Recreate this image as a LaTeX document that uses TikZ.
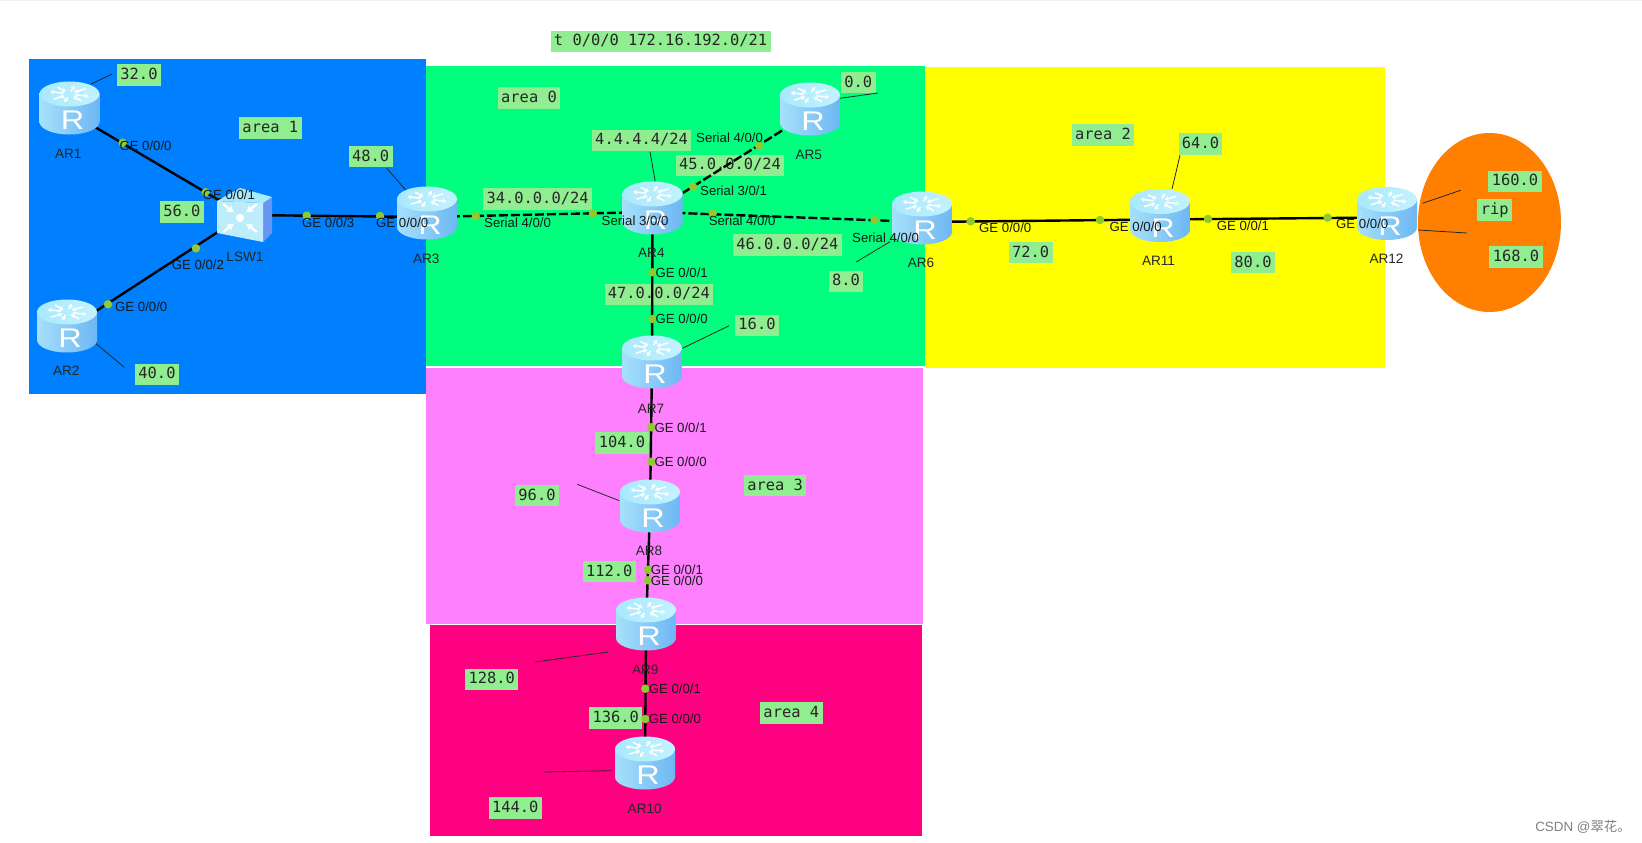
\documentclass[tikz,border=0pt]{standalone}
\usepackage{fontspec}
\usepackage{tikz}
\usetikzlibrary{backgrounds, arrows.meta}
\setmainfont{Liberation Sans}
\newfontfamily\labelfont{DejaVu Sans Mono}
\newfontfamily\cjkfont{Noto Sans CJK SC}
\definecolor{area0col}{HTML}{00FF7F}
\definecolor{area1col}{HTML}{0080FF}
\definecolor{area2col}{HTML}{FFFF00}
\definecolor{area3col}{HTML}{FF80FF}
\definecolor{area4col}{HTML}{FF0080}
\definecolor{ripcol}{HTML}{FF8000}
\definecolor{tagcol}{HTML}{90EE90}
\definecolor{portcol}{HTML}{8FCB2E}
\definecolor{bodyl}{HTML}{A6E0FB}
\definecolor{bodym}{HTML}{9ADCFC}
\definecolor{bodyr}{HTML}{6DB7F3}
\definecolor{topl}{HTML}{A8E9FD}
\definecolor{topr}{HTML}{C4F2FE}
\definecolor{swfront}{HTML}{BDEDFB}
\definecolor{swside}{HTML}{6496F2}
% the icon sits 4 above the point where the links meet
\newcommand{\routerbody}{
  \begin{scope}[shift = {(path picture bounding box.center)}]
    \shade[left color = bodyl, middle color = bodym, right color = bodyr]
      (-30, -18) -- (-30, 10) arc[x radius = 30, y radius = 12.5, start angle = 180, end angle = 0] -- (30, -18) -- cycle;
    \shade[left color = topl, right color = topr]
      (0, -18) ellipse[x radius = 30, y radius = 12.5];
    \foreach \a in {15, 105, 195, 285}
    {
    \draw[white, line width = 1.5, -{Stealth[length = 4pt, width = 5pt]}] ({6*cos(\a)}, {-18 + 3*sin(\a)}) -- ({20*cos(\a)}, {-18 + 8.5*sin(\a)});
    \draw[white, line width = 1.5, {Stealth[length = 4pt, width = 5pt]}-] ({6*cos(\a + 38)}, {-18 + 3*sin(\a + 38)}) -- ({20*cos(\a + 38)}, {-18 + 8.5*sin(\a + 38)});
    }
    \node[white, font = \fontsize{27}{27}\selectfont, inner sep = 0] at (3, 8.5) (rtext) {\scalebox{1.2}[1]{R}};
  \end{scope}
}
\newcommand{\switchbody}{
  \begin{scope}[shift = {(path picture bounding box.center)}]
    \fill[swside] (19, -12) -- (28, -18) -- (28, 18) -- (19, 27) -- cycle;
    \fill[topl] (-27, -14) -- (-4, -27) -- (28, -18) -- (19, -12) -- cycle;
    \fill[swfront] (-27, -14) -- (19, -12) -- (19, 27) -- (-27, 18) -- cycle;
    \fill[white] (-4, 3) circle (4);
    \foreach \a in {45, 135, 225, 315}
    {
    \draw[white, line width = 2.4, -{Stealth[length = 7pt, width = 8pt]}] ({-4 + 24*cos(\a)}, {3 + 20*sin(\a)}) -- ({-4 + 9*cos(\a)}, {3 + 8*sin(\a)});
    }
  \end{scope}
}
\tikzset{
  router/.style = {minimum width = 61pt, minimum height = 61pt, inner sep = 0, path picture = {\routerbody}},
  switch/.style = {minimum width = 56pt, minimum height = 54pt, inner sep = 0, path picture = {\switchbody}},
  tag/.style = {fill = tagcol, font = \labelfont\fontsize{15.4}{18}\selectfont, inner xsep = 3.4pt, inner ysep = 0, minimum height = 21.5pt, text height = 13pt, text depth = 4pt, text = black!85},
  dev/.style = {font = \fontsize{13.6}{16}\selectfont, inner sep = 0, text = black!85},
  ifname/.style = {font = \fontsize{13.2}{16}\selectfont, inner sep = 0, anchor = west, text = black!90},
  port/.style = {circle, fill = portcol, minimum size = 8.5pt, inner sep = 0},
  link/.style = {line width = 2.4pt, black},
  serial/.style = {link, dash pattern = on 9pt off 3pt},
  leader/.style = {line width = .8pt, black!85}
}
\begin{document}
\begin{tikzpicture}[x = 1pt, y = -1pt]
  \useasboundingbox (0, 0) rectangle (1642, 843);
  \begin{scope}[on background layer]
    \fill[black!5] (0, 0) rectangle (1642, 1);
    \fill[area1col] (29, 59) rectangle (425.5, 394);
    \fill[area0col] (426, 66) rectangle (925, 366);
    \fill[area2col] (925, 67) rectangle (1385, 367.5);
    \fill[area3col] (426, 368) rectangle (923, 624);
    \fill[area4col] (430, 624.5) rectangle (922, 836);
    \fill[ripcol] (1489.5, 222.5) ellipse[x radius = 71.5, y radius = 89.5];
    % labels sit under the links
    \node[tag] at (660.6, 41.5) (prefix) {t 0/0/0 172.16.192.0/21};
    \node[tag] at (270.3, 127.8) (area1) {area 1};
    \node[tag] at (529, 98) (area0) {area 0};
    \node[tag] at (1103, 135) (area2) {area 2};
    \node[tag] at (775.2, 485.5) (area3) {area 3};
    \node[tag] at (791.3, 712.8) (area4) {area 4};
    \node[tag] at (1494.7, 210) (rip) {rip};
    \node[tag] at (139, 75.2) (t32) {32.0};
    \node[tag] at (157, 374.3) (t40) {40.0};
    \node[tag] at (370.7, 156.7) (t48) {48.0};
    \node[tag] at (181.8, 212) (t56) {56.0};
    \node[tag] at (858.3, 82.7) (t0) {0.0};
    \node[tag] at (846, 281.3) (t8) {8.0};
    \node[tag] at (757, 325.3) (t16) {16.0};
    \node[tag] at (1200.5, 144) (t64) {64.0};
    \node[tag] at (1030.7, 252.7) (t72) {72.0};
    \node[tag] at (1253, 262.7) (t80) {80.0};
    \node[tag] at (537, 495.5) (t96) {96.0};
    \node[tag] at (622, 442.8) (t104) {104.0};
    \node[tag] at (609.3, 571.7) (t112) {112.0};
    \node[tag] at (491.8, 679.3) (t128) {128.0};
    \node[tag] at (615.7, 718) (t136) {136.0};
    \node[tag] at (515.3, 808) (t144) {144.0};
    \node[tag] at (1515, 181.3) (t160) {160.0};
    \node[tag] at (1516, 256.8) (t168) {168.0};
    \node[tag] at (641.6, 140.3) (n4) {4.4.4.4/24};
    \node[tag] at (537.6, 199) (n34) {34.0.0.0/24};
    \node[tag] at (730, 165.3) (n45) {45.0.0.0/24};
    \node[tag] at (787.4, 245.2) (n46) {46.0.0.0/24};
    \node[tag] at (658.9, 294.3) (n47) {47.0.0.0/24};
  \end{scope}
  % routers
  \node[router] at (69.5, 112) (AR1) {};
  \node[router] at (67, 330) (AR2) {};
  \node[router] at (427, 217) (AR3) {};
  \node[router] at (652.5, 212) (AR4) {};
  \node[router] at (810, 113) (AR5) {};
  \node[router] at (922, 222) (AR6) {};
  \node[router] at (652, 366) (AR7) {};
  \node[router] at (650, 510) (AR8) {};
  \node[router] at (646, 628) (AR9) {};
  \node[router] at (645, 767) (AR10) {};
  \node[router] at (1160, 219.5) (AR11) {};
  \node[router] at (1387, 217.5) (AR12) {};
  \node[switch] at (244, 215) (LSW1) {};
  \begin{scope}[on background layer]
    \draw[link] (AR1.center) -- (LSW1.center);
    \draw[link] (AR2.center) -- (LSW1.center);
    \draw[link] (LSW1.center) -- (AR3.center);
    \draw[serial] (AR3.center) -- (AR4.center);
    \draw[serial] (AR4.center) -- (AR5.center);
    \draw[serial] (AR4.center) -- (AR6.center);
    \draw[link] (AR4.center) -- (AR7.center);
    \draw[link] (AR7.center) -- (AR8.center);
    \draw[link] (AR8.center) -- (AR9.center);
    \draw[link] (AR9.center) -- (AR10.center);
    \draw[link] (AR6.center) -- (AR11.center);
    \draw[link] (AR11.center) -- (AR12.center);
    % cost leaders
    \coordinate (c32) at (112, 74);
    \coordinate (c40) at (124.3, 367.3);
    \coordinate (c48) at (386.7, 168.3);
    \coordinate (c0) at (878, 93);
    \coordinate (c4) at (650, 151.7);
    \coordinate (c8) at (856.3, 262);
    \coordinate (c16) at (729.2, 325.7);
    \coordinate (c96) at (577.3, 484.3);
    \coordinate (c128) at (535, 662);
    \coordinate (c144) at (544, 772);
    \coordinate (c64) at (1180, 155.3);
    \coordinate (c160) at (1460.7, 190.3);
    \coordinate (c168) at (1466.8, 233);
    \draw[leader] (AR1) ++(21.2, -27.7) -- (c32);
    \draw[leader] (AR2) ++(29, 13.7) -- (c40);
    \draw[leader] (AR3) ++(-21.3, -27) -- (c48);
    \draw[leader] (AR5) ++(30, -14.7) -- (c0);
    \draw[leader] (AR4) ++(2.7, -30.7) -- (c4);
    \draw[leader] (AR6) ++(-32, 19.7) -- (c8);
    \draw[leader] (AR7) ++(30.4, -17.7) -- (c16);
    \draw[leader] (AR8) ++(-30.7, -9.3) -- (c96);
    \draw[leader] (AR9) ++(-37.7, 24) -- (c128);
    \draw[leader] (AR10) ++(-33.3, 3.7) -- (c144);
    \draw[leader] (AR11) ++(12, -30.5) -- (c64);
    \draw[leader] (AR12) ++(35.5, -14.2) -- (c160);
    \draw[leader] (AR12) ++(31, 12.5) -- (c168);
  \end{scope}
  \foreach \n/\x/\y in {1/122.7/142.7, 2/205.7/192.3, 3/196/248.3, 4/108/304.3, 5/306.7/215.7, 6/380/216,
    7/475.8/216, 8/592.9/213.3, 9/693/186.7, 10/759/145.7, 11/712.7/213.3, 12/874.5/220,
    13/652.4/272.3, 14/652.4/319, 15/651.3/427.3, 16/651.3/461.7, 17/648/569.7, 18/648/580.3,
    19/645.3/688.7, 20/645.3/719, 21/970.7/221.3, 22/1100/220, 23/1208/219, 24/1327.6/217.7}
  {
  \node[port] at (\x, \y) (p\n) {};
  }
  \node[ifname] at (119.3, 146) (if1) {GE 0/0/0};
  \node[ifname] at (202.7, 195) (if2) {GE 0/0/1};
  \node[ifname] at (171.7, 265) (if3) {GE 0/0/2};
  \node[ifname] at (115, 306.3) (if4) {GE 0/0/0};
  \node[ifname] at (302, 222.7) (if5) {GE 0/0/3};
  \node[ifname] at (376, 222.7) (if6) {GE 0/0/0};
  \node[ifname] at (484, 222.7) (if7) {Serial 4/0/0};
  \node[ifname] at (601.5, 220.3) (if8) {Serial 3/0/0};
  \node[ifname] at (700, 190.3) (if9) {Serial 3/0/1};
  \node[ifname] at (696, 137.7) (if10) {Serial 4/0/0};
  \node[ifname] at (708.6, 220.3) (if11) {Serial 4/0/0};
  \node[ifname] at (852, 238) (if12) {Serial 4/0/0};
  \node[ifname] at (655.5, 273) (if13) {GE 0/0/1};
  \node[ifname] at (655.5, 318.7) (if14) {GE 0/0/0};
  \node[ifname] at (654.3, 427.7) (if15) {GE 0/0/1};
  \node[ifname] at (654.3, 461.7) (if16) {GE 0/0/0};
  \node[ifname] at (650.7, 570) (if17) {GE 0/0/1};
  \node[ifname] at (650.7, 580.3) (if18) {GE 0/0/0};
  \node[ifname] at (648.7, 689) (if19) {GE 0/0/1};
  \node[ifname] at (648.7, 719) (if20) {GE 0/0/0};
  \node[ifname] at (979, 227.7) (if21) {GE 0/0/0};
  \node[ifname] at (1109.5, 226.7) (if22) {GE 0/0/0};
  \node[ifname] at (1216.6, 225.3) (if23) {GE 0/0/1};
  \node[ifname] at (1336, 224) (if24) {GE 0/0/0};
  % device names
  \node[dev] at (68.3, 153.7) (nAR1) {AR1};
  \node[dev] at (66.3, 371) (nAR2) {AR2};
  \node[dev] at (245, 257.3) (nLSW1) {LSW1};
  \node[dev] at (426.3, 258.7) (nAR3) {AR3};
  \node[dev] at (651.4, 253.3) (nAR4) {AR4};
  \node[dev] at (808.8, 154.7) (nAR5) {AR5};
  \node[dev] at (921, 263.3) (nAR6) {AR6};
  \node[dev] at (651, 408.7) (nAR7) {AR7};
  \node[dev] at (649, 551) (nAR8) {AR8};
  \node[dev] at (645.3, 669.7) (nAR9) {AR9};
  \node[dev] at (644.7, 808.7) (nAR10) {AR10};
  \node[dev] at (1158.5, 261) (nAR11) {AR11};
  \node[dev] at (1386.5, 258.3) (nAR12) {AR12};
  \node[font = \fontsize{13.4}{16}\selectfont, text = black!50, inner sep = 0] at (1583, 827) (mark) {CSDN @{\cjkfont 翠花。}};
\end{tikzpicture}
\end{document}
